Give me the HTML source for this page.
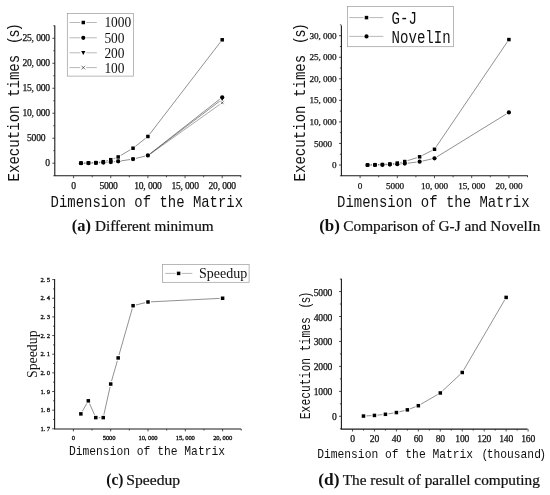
<!DOCTYPE html>
<html lang="en">
<head>
<meta charset="utf-8">
<title>Execution time charts</title>
<style>
html,body{margin:0;padding:0;background:#fff;}
body{width:550px;height:495px;overflow:hidden;}
svg{display:block;}
</style>
</head>
<body>
<svg width="550" height="495" viewBox="0 0 550 495">
<rect width="550" height="495" fill="#fff"/>
<g>
<path d="M54.80 25.40V175.80H241.20" stroke="#1a1a1a" stroke-width="1.1" fill="none"/>
<path d="M73.60 175.80v2.4M110.75 175.80v2.4M147.90 175.80v2.4M185.05 175.80v2.4M222.20 175.80v2.4M92.17 175.80v1.5M129.32 175.80v1.5M166.47 175.80v1.5M203.62 175.80v1.5M240.78 175.80v1.5M54.80 163.20h-2.4M54.80 138.22h-2.4M54.80 113.24h-2.4M54.80 88.26h-2.4M54.80 63.28h-2.4M54.80 38.30h-2.4M54.80 175.69h-1.5M54.80 150.71h-1.5M54.80 125.73h-1.5M54.80 100.75h-1.5M54.80 75.77h-1.5M54.80 50.79h-1.5M54.80 25.81h-1.5" stroke="#222" stroke-width="0.8" fill="none"/>
<text x="71.32" y="189.00" font-family='"Liberation Serif", serif' font-size="9.6" fill="#111" stroke="#111" stroke-width="0.25">0</text>
<text x="99.38 103.92 108.47 113.03" y="189.00" font-family='"Liberation Serif", serif' font-size="9.6" fill="#111" stroke="#111" stroke-width="0.25">5000</text>
<text x="134.25 138.80 143.35 147.90 152.45 157.00" y="189.00" font-family='"Liberation Serif", serif' font-size="9.6" fill="#111" stroke="#111" stroke-width="0.25">10,000</text>
<text x="171.40 175.95 180.50 185.05 189.60 194.15" y="189.00" font-family='"Liberation Serif", serif' font-size="9.6" fill="#111" stroke="#111" stroke-width="0.25">15,000</text>
<text x="208.55 213.10 217.65 222.20 226.75 231.30" y="189.00" font-family='"Liberation Serif", serif' font-size="9.6" fill="#111" stroke="#111" stroke-width="0.25">20,000</text>
<text x="45.25" y="166.20" font-family='"Liberation Serif", serif' font-size="9.6" fill="#111" stroke="#111" stroke-width="0.25">0</text>
<text x="27.05 31.60 36.15 40.70" y="141.22" font-family='"Liberation Serif", serif' font-size="9.6" fill="#111" stroke="#111" stroke-width="0.25">5000</text>
<text x="22.50 27.05 31.60 36.15 40.70 45.25" y="116.24" font-family='"Liberation Serif", serif' font-size="9.6" fill="#111" stroke="#111" stroke-width="0.25">10,000</text>
<text x="22.50 27.05 31.60 36.15 40.70 45.25" y="91.26" font-family='"Liberation Serif", serif' font-size="9.6" fill="#111" stroke="#111" stroke-width="0.25">15,000</text>
<text x="22.50 27.05 31.60 36.15 40.70 45.25" y="66.28" font-family='"Liberation Serif", serif' font-size="9.6" fill="#111" stroke="#111" stroke-width="0.25">20,000</text>
<text x="22.50 27.05 31.60 36.15 40.70 45.25" y="41.30" font-family='"Liberation Serif", serif' font-size="9.6" fill="#111" stroke="#111" stroke-width="0.25">25,000</text>
<text x="50.60" y="207.30" font-family='"Liberation Mono", monospace' font-size="16.6" textLength="192.51" lengthAdjust="spacingAndGlyphs" fill="#111">Dimension of the Matrix</text>
<g transform="rotate(-90 18.60 181.50)">
<text x="18.60" y="181.50" font-family='"Liberation Mono", monospace' font-size="17.0" textLength="126.75" lengthAdjust="spacingAndGlyphs" fill="#111">Execution times</text>
<text x="155.83" y="181.50" font-family='"Liberation Mono", monospace' font-size="17.0" textLength="8.45" lengthAdjust="spacingAndGlyphs" fill="#111">(</text>
<text x="162.25" y="181.50" font-family='"Liberation Mono", monospace' font-size="17.0" textLength="8.45" lengthAdjust="spacingAndGlyphs" fill="#111">s</text>
<text x="168.67" y="181.50" font-family='"Liberation Mono", monospace' font-size="17.0" textLength="8.45" lengthAdjust="spacingAndGlyphs" fill="#111">)</text>
</g>
<path d="M84.03 163.09L85.46 163.06M91.46 162.86L92.89 162.79M98.87 162.27L100.34 162.08M106.22 160.92L107.85 160.48M113.56 158.66L115.37 158.00M120.77 155.43L130.45 149.73M135.39 146.35L145.55 138.33M149.73 134.09L220.37 42.18" stroke="#222" stroke-width="0.5" fill="none"/>
<path d="M84.03 163.14L85.46 163.13M91.46 163.02L92.89 162.98M98.89 162.76L100.32 162.69M106.31 162.35L107.76 162.25M113.73 161.75L115.20 161.60M121.15 160.86L130.07 159.54M135.95 158.39L144.99 156.17M150.26 153.61L219.84 99.10" stroke="#222" stroke-width="0.5" fill="none"/>
<path d="M150.29 153.79L219.81 101.06" stroke="#222" stroke-width="0.5" fill="none"/>
<path d="M150.34 153.96L219.76 104.49" stroke="#555" stroke-width="0.5" fill="none"/>
<rect x="79.28" y="161.40" width="3.50" height="3.50" fill="#000"/>
<rect x="86.71" y="161.25" width="3.50" height="3.50" fill="#000"/>
<rect x="94.14" y="160.90" width="3.50" height="3.50" fill="#000"/>
<rect x="101.57" y="159.95" width="3.50" height="3.50" fill="#000"/>
<rect x="109.00" y="157.95" width="3.50" height="3.50" fill="#000"/>
<rect x="116.43" y="155.20" width="3.50" height="3.50" fill="#000"/>
<rect x="131.29" y="146.46" width="3.50" height="3.50" fill="#000"/>
<rect x="146.15" y="134.72" width="3.50" height="3.50" fill="#000"/>
<rect x="220.45" y="38.05" width="3.50" height="3.50" fill="#000"/>
<circle cx="81.03" cy="163.18" r="2.10" fill="#000"/>
<circle cx="88.46" cy="163.10" r="2.10" fill="#000"/>
<circle cx="95.89" cy="162.90" r="2.10" fill="#000"/>
<circle cx="103.32" cy="162.55" r="2.10" fill="#000"/>
<circle cx="110.75" cy="162.05" r="2.10" fill="#000"/>
<circle cx="118.18" cy="161.30" r="2.10" fill="#000"/>
<circle cx="133.04" cy="159.10" r="2.10" fill="#000"/>
<circle cx="147.90" cy="155.46" r="2.10" fill="#000"/>
<circle cx="222.20" cy="97.25" r="2.10" fill="#000"/>
<polygon points="79.25,161.75 82.81,161.75 81.03,164.96" fill="#000"/>
<polygon points="86.67,161.67 90.24,161.67 88.46,164.89" fill="#000"/>
<polygon points="94.10,161.47 97.67,161.47 95.89,164.69" fill="#000"/>
<polygon points="101.53,161.12 105.10,161.12 103.32,164.34" fill="#000"/>
<polygon points="108.97,160.62 112.53,160.62 110.75,163.84" fill="#000"/>
<polygon points="116.39,159.87 119.96,159.87 118.18,163.09" fill="#000"/>
<polygon points="131.25,157.68 134.82,157.68 133.04,160.89" fill="#000"/>
<polygon points="146.11,154.18 149.68,154.18 147.90,157.39" fill="#000"/>
<polygon points="220.41,97.82 223.98,97.82 222.20,101.04" fill="#000"/>
<path d="M79.63 161.77L82.43 164.58M79.63 164.58L82.43 161.77" stroke="#000" stroke-width="0.55" fill="none"/>
<path d="M87.06 161.70L89.86 164.50M87.06 164.50L89.86 161.70" stroke="#000" stroke-width="0.55" fill="none"/>
<path d="M94.49 161.50L97.29 164.30M94.49 164.30L97.29 161.50" stroke="#000" stroke-width="0.55" fill="none"/>
<path d="M101.92 161.15L104.72 163.95M101.92 163.95L104.72 161.15" stroke="#000" stroke-width="0.55" fill="none"/>
<path d="M109.35 160.65L112.15 163.45M109.35 163.45L112.15 160.65" stroke="#000" stroke-width="0.55" fill="none"/>
<path d="M116.78 159.90L119.58 162.71M116.78 162.71L119.58 159.90" stroke="#000" stroke-width="0.55" fill="none"/>
<path d="M131.64 157.70L134.44 160.51M131.64 160.51L134.44 157.70" stroke="#000" stroke-width="0.55" fill="none"/>
<path d="M146.50 154.30L149.30 157.11M146.50 157.11L149.30 154.30" stroke="#000" stroke-width="0.55" fill="none"/>
<path d="M220.80 101.34L223.60 104.15M220.80 104.15L223.60 101.34" stroke="#000" stroke-width="0.55" fill="none"/>
<rect x="67.30" y="13.50" width="66.20" height="62.60" fill="#fff" stroke="#9a9a9a" stroke-width="0.7"/>
<path d="M69.50 22.50H80.30M86.30 22.50H96.80" stroke="#555" stroke-width="0.42" fill="none"/>
<rect x="81.55" y="20.75" width="3.50" height="3.50" fill="#000"/>
<text x="104.40" y="27.40" font-family='"Liberation Serif", serif' font-size="14.3" textLength="26.88" lengthAdjust="spacingAndGlyphs" fill="#111">1000</text>
<path d="M69.50 37.80H80.30M86.30 37.80H96.80" stroke="#555" stroke-width="0.42" fill="none"/>
<circle cx="83.30" cy="37.80" r="2.10" fill="#000"/>
<text x="104.40" y="42.70" font-family='"Liberation Serif", serif' font-size="14.3" textLength="20.16" lengthAdjust="spacingAndGlyphs" fill="#111">500</text>
<path d="M69.50 52.80H80.30M86.30 52.80H96.80" stroke="#555" stroke-width="0.42" fill="none"/>
<polygon points="81.20,51.12 85.40,51.12 83.30,54.90" fill="#000"/>
<text x="104.40" y="57.70" font-family='"Liberation Serif", serif' font-size="14.3" textLength="20.16" lengthAdjust="spacingAndGlyphs" fill="#111">200</text>
<path d="M69.50 67.60H80.30M86.30 67.60H96.80" stroke="#555" stroke-width="0.42" fill="none"/>
<path d="M81.50 65.80L85.10 69.40M81.50 69.40L85.10 65.80" stroke="#000" stroke-width="0.55" fill="none"/>
<text x="104.40" y="72.50" font-family='"Liberation Serif", serif' font-size="14.3" textLength="20.16" lengthAdjust="spacingAndGlyphs" fill="#111">100</text>
<text x="71.80" y="231.40" font-family='"Liberation Serif", serif' font-size="16" font-weight="bold" textLength="19.20" lengthAdjust="spacingAndGlyphs" fill="#111">(a)</text>
<text x="95.10" y="231.40" font-family='"Liberation Serif", serif' font-size="13.6" textLength="118.50" lengthAdjust="spacingAndGlyphs" fill="#111" stroke="#111" stroke-width="0.2">Different minimum</text>
</g>
<g>
<path d="M341.40 25.40V175.80H527.80" stroke="#1a1a1a" stroke-width="1.1" fill="none"/>
<path d="M360.10 175.80v2.4M397.30 175.80v2.4M434.50 175.80v2.4M471.70 175.80v2.4M508.90 175.80v2.4M378.70 175.80v1.5M415.90 175.80v1.5M453.10 175.80v1.5M490.30 175.80v1.5M527.50 175.80v1.5M341.40 165.00h-2.4M341.40 143.45h-2.4M341.40 121.90h-2.4M341.40 100.35h-2.4M341.40 78.80h-2.4M341.40 57.25h-2.4M341.40 35.70h-2.4M341.40 175.78h-1.5M341.40 154.22h-1.5M341.40 132.68h-1.5M341.40 111.12h-1.5M341.40 89.57h-1.5M341.40 68.02h-1.5M341.40 46.47h-1.5M341.40 24.92h-1.5" stroke="#222" stroke-width="0.8" fill="none"/>
<text x="357.85" y="189.00" font-family='"Liberation Serif", serif' font-size="9.2" fill="#111" stroke="#111" stroke-width="0.25">0</text>
<text x="386.05 390.55 395.05 399.55" y="189.00" font-family='"Liberation Serif", serif' font-size="9.2" fill="#111" stroke="#111" stroke-width="0.25">5000</text>
<text x="421.00 425.50 430.00 434.50 439.00 443.50" y="189.00" font-family='"Liberation Serif", serif' font-size="9.2" fill="#111" stroke="#111" stroke-width="0.25">10,000</text>
<text x="458.20 462.70 467.20 471.70 476.20 480.70" y="189.00" font-family='"Liberation Serif", serif' font-size="9.2" fill="#111" stroke="#111" stroke-width="0.25">15,000</text>
<text x="495.40 499.90 504.40 508.90 513.40 517.90" y="189.00" font-family='"Liberation Serif", serif' font-size="9.2" fill="#111" stroke="#111" stroke-width="0.25">20,000</text>
<text x="331.90" y="168.10" font-family='"Liberation Serif", serif' font-size="9.2" fill="#111" stroke="#111" stroke-width="0.25">0</text>
<text x="313.90 318.40 322.90 327.40" y="146.55" font-family='"Liberation Serif", serif' font-size="9.2" fill="#111" stroke="#111" stroke-width="0.25">5000</text>
<text x="309.40 313.90 318.40 322.90 327.40 331.90" y="125.00" font-family='"Liberation Serif", serif' font-size="9.2" fill="#111" stroke="#111" stroke-width="0.25">10,000</text>
<text x="309.40 313.90 318.40 322.90 327.40 331.90" y="103.45" font-family='"Liberation Serif", serif' font-size="9.2" fill="#111" stroke="#111" stroke-width="0.25">15,000</text>
<text x="309.40 313.90 318.40 322.90 327.40 331.90" y="81.90" font-family='"Liberation Serif", serif' font-size="9.2" fill="#111" stroke="#111" stroke-width="0.25">20,000</text>
<text x="309.40 313.90 318.40 322.90 327.40 331.90" y="60.35" font-family='"Liberation Serif", serif' font-size="9.2" fill="#111" stroke="#111" stroke-width="0.25">25,000</text>
<text x="309.40 313.90 318.40 322.90 327.40 331.90" y="38.80" font-family='"Liberation Serif", serif' font-size="9.2" fill="#111" stroke="#111" stroke-width="0.25">30,000</text>
<text x="337.10" y="207.30" font-family='"Liberation Mono", monospace' font-size="16.6" textLength="192.51" lengthAdjust="spacingAndGlyphs" fill="#111">Dimension of the Matrix</text>
<g transform="rotate(-90 304.60 181.50)">
<text x="304.60" y="181.50" font-family='"Liberation Mono", monospace' font-size="17.0" textLength="126.75" lengthAdjust="spacingAndGlyphs" fill="#111">Execution times</text>
<text x="441.83" y="181.50" font-family='"Liberation Mono", monospace' font-size="17.0" textLength="8.45" lengthAdjust="spacingAndGlyphs" fill="#111">(</text>
<text x="448.25" y="181.50" font-family='"Liberation Mono", monospace' font-size="17.0" textLength="8.45" lengthAdjust="spacingAndGlyphs" fill="#111">s</text>
<text x="454.67" y="181.50" font-family='"Liberation Mono", monospace' font-size="17.0" textLength="8.45" lengthAdjust="spacingAndGlyphs" fill="#111">)</text>
</g>
<path d="M370.54 164.90L371.98 164.88M377.98 164.71L379.42 164.65M385.41 164.28L386.87 164.17M392.84 163.58L394.32 163.41M400.24 162.46L401.80 162.15M407.60 160.64L416.76 157.72M422.30 155.45L431.82 150.62M436.18 146.79L507.22 42.06" stroke="#222" stroke-width="0.5" fill="none"/>
<path d="M370.54 164.95L371.98 164.94M377.98 164.86L379.42 164.84M385.42 164.68L386.86 164.63M392.86 164.37L394.30 164.29M400.29 163.91L401.75 163.80M407.72 163.21L416.64 162.10M422.54 161.06L431.58 158.99M437.05 156.74L506.35 113.99" stroke="#222" stroke-width="0.5" fill="none"/>
<rect x="365.79" y="163.21" width="3.50" height="3.50" fill="#000"/>
<rect x="373.23" y="163.08" width="3.50" height="3.50" fill="#000"/>
<rect x="380.67" y="162.78" width="3.50" height="3.50" fill="#000"/>
<rect x="388.11" y="162.17" width="3.50" height="3.50" fill="#000"/>
<rect x="395.55" y="161.31" width="3.50" height="3.50" fill="#000"/>
<rect x="402.99" y="159.80" width="3.50" height="3.50" fill="#000"/>
<rect x="417.87" y="155.06" width="3.50" height="3.50" fill="#000"/>
<rect x="432.75" y="147.52" width="3.50" height="3.50" fill="#000"/>
<rect x="507.15" y="37.83" width="3.50" height="3.50" fill="#000"/>
<circle cx="367.54" cy="164.98" r="2.10" fill="#000"/>
<circle cx="374.98" cy="164.91" r="2.10" fill="#000"/>
<circle cx="382.42" cy="164.78" r="2.10" fill="#000"/>
<circle cx="389.86" cy="164.53" r="2.10" fill="#000"/>
<circle cx="397.30" cy="164.14" r="2.10" fill="#000"/>
<circle cx="404.74" cy="163.58" r="2.10" fill="#000"/>
<circle cx="419.62" cy="161.72" r="2.10" fill="#000"/>
<circle cx="434.50" cy="158.32" r="2.10" fill="#000"/>
<circle cx="508.90" cy="112.42" r="2.10" fill="#000"/>
<rect x="347.40" y="6.40" width="106.10" height="40.30" fill="#fff" stroke="#9a9a9a" stroke-width="0.7"/>
<path d="M349.20 17.60H363.50M369.50 17.60H383.30" stroke="#555" stroke-width="0.42" fill="none"/>
<rect x="364.75" y="15.85" width="3.50" height="3.50" fill="#000"/>
<text x="391.60" y="23.70" font-family='"Liberation Mono", monospace' font-size="18" textLength="25.29" lengthAdjust="spacingAndGlyphs" fill="#111">G-J</text>
<path d="M349.20 36.40H363.50M369.50 36.40H383.30" stroke="#555" stroke-width="0.42" fill="none"/>
<circle cx="366.50" cy="36.40" r="2.10" fill="#000"/>
<text x="391.60" y="42.50" font-family='"Liberation Mono", monospace' font-size="18" textLength="59.01" lengthAdjust="spacingAndGlyphs" fill="#111">NovelIn</text>
<text x="319.20" y="231.30" font-family='"Liberation Serif", serif' font-size="16" font-weight="bold" textLength="20.70" lengthAdjust="spacingAndGlyphs" fill="#111">(b)</text>
<text x="343.30" y="231.30" font-family='"Liberation Serif", serif' font-size="13.6" textLength="197.20" lengthAdjust="spacingAndGlyphs" fill="#111" stroke="#111" stroke-width="0.2">Comparison of G-J and NovelIn</text>
</g>
<g>
<path d="M54.60 279.00V429.00H241.20" stroke="#1a1a1a" stroke-width="1.1" fill="none"/>
<path d="M73.40 429.00v2.4M110.70 429.00v2.4M148.00 429.00v2.4M185.30 429.00v2.4M222.60 429.00v2.4M92.05 429.00v1.5M129.35 429.00v1.5M166.65 429.00v1.5M203.95 429.00v1.5M241.25 429.00v1.5M54.60 428.80h-2.4M54.60 410.15h-2.4M54.60 391.50h-2.4M54.60 372.85h-2.4M54.60 354.20h-2.4M54.60 335.55h-2.4M54.60 316.90h-2.4M54.60 298.25h-2.4M54.60 279.60h-2.4M54.60 419.48h-1.5M54.60 400.82h-1.5M54.60 382.18h-1.5M54.60 363.53h-1.5M54.60 344.88h-1.5M54.60 326.23h-1.5M54.60 307.57h-1.5M54.60 288.92h-1.5" stroke="#222" stroke-width="0.8" fill="none"/>
<text x="71.83" y="439.70" font-family='"Liberation Serif", serif' font-size="6.6" fill="#111" stroke="#111" stroke-width="0.3">0</text>
<text x="102.83 105.98 109.12 112.28" y="439.70" font-family='"Liberation Serif", serif' font-size="6.6" fill="#111" stroke="#111" stroke-width="0.3">5000</text>
<text x="138.55 141.70 144.85 148.00 151.15 154.30" y="439.70" font-family='"Liberation Serif", serif' font-size="6.6" fill="#111" stroke="#111" stroke-width="0.3">10,000</text>
<text x="175.85 179.00 182.15 185.30 188.45 191.60" y="439.70" font-family='"Liberation Serif", serif' font-size="6.6" fill="#111" stroke="#111" stroke-width="0.3">15,000</text>
<text x="213.15 216.30 219.45 222.60 225.75 228.90" y="439.70" font-family='"Liberation Serif", serif' font-size="6.6" fill="#111" stroke="#111" stroke-width="0.3">20,000</text>
<text x="40.45 43.60 46.75" y="431.00" font-family='"Liberation Serif", serif' font-size="6.6" fill="#111" stroke="#111" stroke-width="0.3">1.7</text>
<text x="40.45 43.60 46.75" y="412.35" font-family='"Liberation Serif", serif' font-size="6.6" fill="#111" stroke="#111" stroke-width="0.3">1.8</text>
<text x="40.45 43.60 46.75" y="393.70" font-family='"Liberation Serif", serif' font-size="6.6" fill="#111" stroke="#111" stroke-width="0.3">1.9</text>
<text x="40.45 43.60 46.75" y="375.05" font-family='"Liberation Serif", serif' font-size="6.6" fill="#111" stroke="#111" stroke-width="0.3">2.0</text>
<text x="40.45 43.60 46.75" y="356.40" font-family='"Liberation Serif", serif' font-size="6.6" fill="#111" stroke="#111" stroke-width="0.3">2.1</text>
<text x="40.45 43.60 46.75" y="337.75" font-family='"Liberation Serif", serif' font-size="6.6" fill="#111" stroke="#111" stroke-width="0.3">2.2</text>
<text x="40.45 43.60 46.75" y="319.10" font-family='"Liberation Serif", serif' font-size="6.6" fill="#111" stroke="#111" stroke-width="0.3">2.3</text>
<text x="40.45 43.60 46.75" y="300.45" font-family='"Liberation Serif", serif' font-size="6.6" fill="#111" stroke="#111" stroke-width="0.3">2.4</text>
<text x="40.45 43.60 46.75" y="281.80" font-family='"Liberation Serif", serif' font-size="6.6" fill="#111" stroke="#111" stroke-width="0.3">2.5</text>
<text x="68.90" y="454.70" font-family='"Liberation Mono", monospace' font-size="13.2" textLength="156.17" lengthAdjust="spacingAndGlyphs" fill="#111">Dimension of the Matrix</text>
<text x="36.80" y="378.00" font-family='"Liberation Serif", serif' font-size="14.8" textLength="47.60" lengthAdjust="spacingAndGlyphs" transform="rotate(-90 36.80 378.00)" fill="#111">Speedup</text>
<path d="M82.35 411.28L86.83 403.43M89.54 403.57L94.56 414.87M98.78 417.61L100.24 417.61M103.89 414.68L110.05 386.97M111.52 381.16L117.34 360.81M118.98 355.05L132.26 308.59M135.99 304.98L145.09 302.71M151.00 301.83L219.60 298.40" stroke="#222" stroke-width="0.5" fill="none"/>
<rect x="79.11" y="412.13" width="3.50" height="3.50" fill="#000"/>
<rect x="86.57" y="399.07" width="3.50" height="3.50" fill="#000"/>
<rect x="94.03" y="415.86" width="3.50" height="3.50" fill="#000"/>
<rect x="101.49" y="415.86" width="3.50" height="3.50" fill="#000"/>
<rect x="108.95" y="382.29" width="3.50" height="3.50" fill="#000"/>
<rect x="116.41" y="356.18" width="3.50" height="3.50" fill="#000"/>
<rect x="131.33" y="303.96" width="3.50" height="3.50" fill="#000"/>
<rect x="146.25" y="300.23" width="3.50" height="3.50" fill="#000"/>
<rect x="220.85" y="296.50" width="3.50" height="3.50" fill="#000"/>
<rect x="162.60" y="264.50" width="86.50" height="17.80" fill="#fff" stroke="#9a9a9a" stroke-width="0.7"/>
<path d="M165.10 273.40H175.60M181.60 273.40H192.30" stroke="#555" stroke-width="0.42" fill="none"/>
<rect x="176.85" y="271.65" width="3.50" height="3.50" fill="#000"/>
<text x="199.00" y="278.00" font-family='"Liberation Serif", serif' font-size="14.8" textLength="48.20" lengthAdjust="spacingAndGlyphs" fill="#111">Speedup</text>
<text x="106.30" y="484.60" font-family='"Liberation Serif", serif' font-size="16" font-weight="bold" textLength="17.20" lengthAdjust="spacingAndGlyphs" fill="#111">(c)</text>
<text x="126.30" y="484.60" font-family='"Liberation Serif", serif' font-size="13.6" textLength="53.80" lengthAdjust="spacingAndGlyphs" fill="#111" stroke="#111" stroke-width="0.2">Speedup</text>
</g>
<g>
<path d="M341.40 278.80V429.10H527.60" stroke="#1a1a1a" stroke-width="1.1" fill="none"/>
<path d="M352.50 429.10v2.4M374.45 429.10v2.4M396.40 429.10v2.4M418.35 429.10v2.4M440.30 429.10v2.4M462.25 429.10v2.4M484.20 429.10v2.4M506.15 429.10v2.4M528.10 429.10v2.4M363.48 429.10v1.5M385.43 429.10v1.5M407.38 429.10v1.5M429.32 429.10v1.5M451.27 429.10v1.5M473.23 429.10v1.5M495.17 429.10v1.5M517.12 429.10v1.5M341.40 416.30h-2.4M341.40 391.35h-2.4M341.40 366.40h-2.4M341.40 341.45h-2.4M341.40 316.50h-2.4M341.40 291.55h-2.4M341.40 428.78h-1.5M341.40 403.82h-1.5M341.40 378.88h-1.5M341.40 353.93h-1.5M341.40 328.98h-1.5M341.40 304.02h-1.5M341.40 279.08h-1.5" stroke="#222" stroke-width="0.8" fill="none"/>
<text x="350.20" y="442.20" font-family='"Liberation Serif", serif' font-size="9.6" fill="#111" stroke="#111" stroke-width="0.25">0</text>
<text x="369.85 374.45" y="442.20" font-family='"Liberation Serif", serif' font-size="9.6" fill="#111" stroke="#111" stroke-width="0.25">20</text>
<text x="391.80 396.40" y="442.20" font-family='"Liberation Serif", serif' font-size="9.6" fill="#111" stroke="#111" stroke-width="0.25">40</text>
<text x="413.75 418.35" y="442.20" font-family='"Liberation Serif", serif' font-size="9.6" fill="#111" stroke="#111" stroke-width="0.25">60</text>
<text x="435.70 440.30" y="442.20" font-family='"Liberation Serif", serif' font-size="9.6" fill="#111" stroke="#111" stroke-width="0.25">80</text>
<text x="455.35 459.95 464.55" y="442.20" font-family='"Liberation Serif", serif' font-size="9.6" fill="#111" stroke="#111" stroke-width="0.25">100</text>
<text x="477.30 481.90 486.50" y="442.20" font-family='"Liberation Serif", serif' font-size="9.6" fill="#111" stroke="#111" stroke-width="0.25">120</text>
<text x="499.25 503.85 508.45" y="442.20" font-family='"Liberation Serif", serif' font-size="9.6" fill="#111" stroke="#111" stroke-width="0.25">140</text>
<text x="521.20 525.80 530.40" y="442.20" font-family='"Liberation Serif", serif' font-size="9.6" fill="#111" stroke="#111" stroke-width="0.25">160</text>
<text x="332.10" y="420.30" font-family='"Liberation Serif", serif' font-size="9.6" fill="#111" stroke="#111" stroke-width="0.25">0</text>
<text x="313.70 318.30 322.90 327.50" y="395.35" font-family='"Liberation Serif", serif' font-size="9.6" fill="#111" stroke="#111" stroke-width="0.25">1000</text>
<text x="313.70 318.30 322.90 327.50" y="370.40" font-family='"Liberation Serif", serif' font-size="9.6" fill="#111" stroke="#111" stroke-width="0.25">2000</text>
<text x="313.70 318.30 322.90 327.50" y="345.45" font-family='"Liberation Serif", serif' font-size="9.6" fill="#111" stroke="#111" stroke-width="0.25">3000</text>
<text x="313.70 318.30 322.90 327.50" y="320.50" font-family='"Liberation Serif", serif' font-size="9.6" fill="#111" stroke="#111" stroke-width="0.25">4000</text>
<text x="313.70 318.30 322.90 327.50" y="295.55" font-family='"Liberation Serif", serif' font-size="9.6" fill="#111" stroke="#111" stroke-width="0.25">5000</text>
<text x="317.20" y="458.30" font-family='"Liberation Mono", monospace' font-size="13.2" textLength="155.94" lengthAdjust="spacingAndGlyphs" fill="#111">Dimension of the Matrix</text>
<text x="481.55" y="458.30" font-family='"Liberation Mono", monospace' font-size="13.2" textLength="6.78" lengthAdjust="spacingAndGlyphs" fill="#111">(</text>
<text x="486.70" y="458.30" font-family='"Liberation Mono", monospace' font-size="13.2" textLength="54.24" lengthAdjust="spacingAndGlyphs" fill="#111">thousand</text>
<text x="539.31" y="458.30" font-family='"Liberation Mono", monospace' font-size="13.2" textLength="6.78" lengthAdjust="spacingAndGlyphs" fill="#111">)</text>
<g transform="rotate(-90 310.40 419.20)">
<text x="310.40" y="419.20" font-family='"Liberation Mono", monospace' font-size="13.8" textLength="102.00" lengthAdjust="spacingAndGlyphs" fill="#111">Execution times</text>
<text x="420.83" y="419.20" font-family='"Liberation Mono", monospace' font-size="13.8" textLength="6.80" lengthAdjust="spacingAndGlyphs" fill="#111">(</text>
<text x="426.00" y="419.20" font-family='"Liberation Mono", monospace' font-size="13.8" textLength="6.80" lengthAdjust="spacingAndGlyphs" fill="#111">s</text>
<text x="431.17" y="419.20" font-family='"Liberation Mono", monospace' font-size="13.8" textLength="6.80" lengthAdjust="spacingAndGlyphs" fill="#111">)</text>
</g>
<path d="M366.47 415.88L371.45 415.60M377.43 415.12L382.44 414.61M388.39 413.83L393.44 413.03M399.31 411.84L404.46 410.58M410.18 408.80L415.55 406.76M420.95 404.19L437.70 394.48M442.49 390.92L460.06 374.53M463.76 369.90L504.64 300.00" stroke="#222" stroke-width="0.5" fill="none"/>
<rect x="361.73" y="414.30" width="3.50" height="3.50" fill="#000"/>
<rect x="372.70" y="413.68" width="3.50" height="3.50" fill="#000"/>
<rect x="383.68" y="412.55" width="3.50" height="3.50" fill="#000"/>
<rect x="394.65" y="410.81" width="3.50" height="3.50" fill="#000"/>
<rect x="405.62" y="408.11" width="3.50" height="3.50" fill="#000"/>
<rect x="416.60" y="403.95" width="3.50" height="3.50" fill="#000"/>
<rect x="438.55" y="391.22" width="3.50" height="3.50" fill="#000"/>
<rect x="460.50" y="370.74" width="3.50" height="3.50" fill="#000"/>
<rect x="504.40" y="295.66" width="3.50" height="3.50" fill="#000"/>
<text x="318.30" y="484.60" font-family='"Liberation Serif", serif' font-size="16" font-weight="bold" textLength="21.20" lengthAdjust="spacingAndGlyphs" fill="#111">(d)</text>
<text x="342.70" y="484.60" font-family='"Liberation Serif", serif' font-size="13.6" textLength="197.10" lengthAdjust="spacingAndGlyphs" fill="#111" stroke="#111" stroke-width="0.2">The result of parallel computing</text>
</g>
</svg>
</body>
</html>
